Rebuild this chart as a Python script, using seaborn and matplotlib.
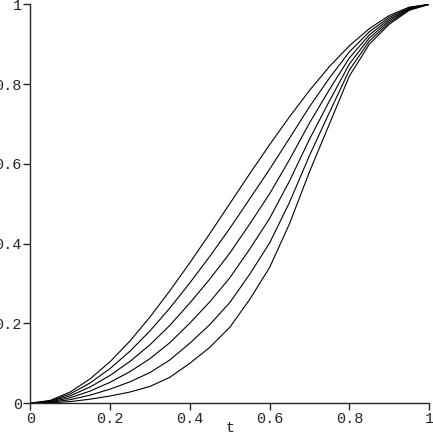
import matplotlib
matplotlib.use("Agg")
import matplotlib.pyplot as plt
import seaborn as sns
import pandas as pd

t = [0, 0.05, 0.1, 0.15, 0.2, 0.25, 0.3, 0.35, 0.4, 0.45, 0.5, 0.55, 0.6, 0.65, 0.7, 0.75, 0.8, 0.85, 0.9, 0.95, 1]
c1 = [0, .007, .028, .061, .104, .156, .216, .282, .352, .425, .5, .575, .648, .718, .784, .844, .896, .939, .972, .993, 1]
c2 = [0, .0058, .0232, .0508, .0868, .1304, .1812, .2386, .3016, .368, .438, .512, .5864, .6644, .7432, .8152, .8808, .9312, .9676, .9914, 1]
c3 = [0, .0046, .0184, .0406, .0696, .1048, .1464, .1952, .2512, .311, .376, .449, .5248, .6108, .7024, .7864, .8656, .9234, .9632, .9898, 1]
c4 = [0, .0034, .0136, .0304, .0524, .0792, .1116, .1518, .2008, .254, .314, .386, .4632, .5572, .6616, .7576, .8504, .9156, .9588, .9882, 1]
c5 = [0, .0022, .0088, .0202, .0352, .0536, .0768, .1084, .1504, .197, .252, .323, .4016, .5036, .6208, .7288, .8352, .9078, .9544, .9866, 1]
c6 = [0, .001, .004, .01, .018, .028, .042, .065, .1, .14, .19, .26, .34, .45, .58, .70, .82, .9, .95, .985, 1]
curves = [c1, c2, c3, c4, c5, c6]
ticks = [0, 0.2, 0.4, 0.6, 0.8, 1]
tick_labels = ["0", "0.2", "0.4", "0.6", "0.8", "1"]

sns.set_style("white")
plt.rcParams['font.family'] = ['Liberation Mono', 'DejaVu Sans Mono']
fig = plt.figure(figsize=(4.33, 4.34), dpi=100)
ax = fig.add_axes([0.07, 0.071, 0.921, 0.919])
for c in curves:
    df = pd.DataFrame({"t": t, "y": c})
    sns.lineplot(data=df, x="t", y="y", color="black", lw=0.8, ax=ax, estimator=None)
ax.set_xlim(0, 1)
ax.set_ylim(0, 1)
for s in ["top", "right"]:
    ax.spines[s].set_visible(False)
for s in ["left", "bottom"]:
    ax.spines[s].set_linewidth(1.0)
ax.set_xticks(ticks)
ax.set_xticklabels(tick_labels, fontsize=11)
ax.set_yticks(ticks)
ax.set_yticklabels(tick_labels, fontsize=11)
ax.tick_params(length=5, width=1, direction="out", pad=1, left=True, bottom=True)
ax.set_xlabel("t", fontsize=11, labelpad=-3)
ax.set_ylabel("")
fig.savefig("out.png", dpi=100)
